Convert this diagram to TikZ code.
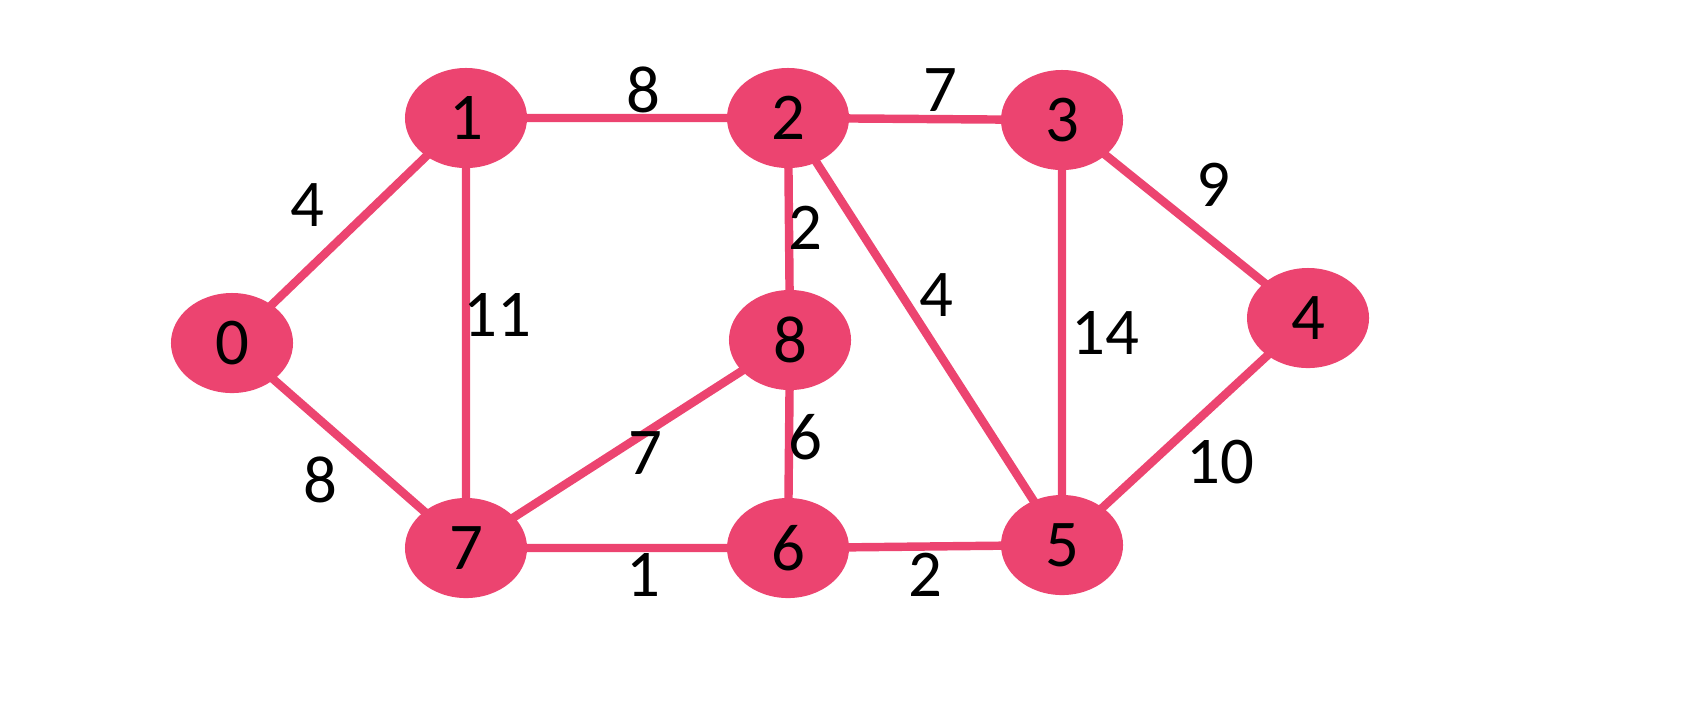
\documentclass[tikz,border=0pt]{standalone}
\usepackage{fontspec}
\setmainfont{Carlito}
\usetikzlibrary{shapes.geometric,backgrounds}
\definecolor{pk}{HTML}{EC4470}
\begin{document}
\begin{tikzpicture}[x=0.01cm,y=-0.01cm,
  vert/.style={ellipse,fill=pk,minimum width=1.22cm,minimum height=1.0cm,inner sep=0pt,font=\fontsize{19}{21}\selectfont},
  edge/.style={draw=pk,line width=2.4pt},
  wt/.style={font=\fontsize{19}{21}\selectfont}]
\useasboundingbox (0,0) rectangle (1707,726);
\node[vert] (n0) at (232,343) {0};
\node[vert] (n1) at (466,118) {1};
\node[vert] (n2) at (788,118) {2};
\node[vert] (n3) at (1062,120) {3};
\node[vert] (n4) at (1308,318) {4};
\node[vert] (n5) at (1062,545) {5};
\node[vert] (n6) at (788,548) {6};
\node[vert] (n7) at (466,548) {7};
\node[vert] (n8) at (790,340) {8};
\begin{scope}[on background layer]
\draw[edge] (n0.center)--(n1.center) (n0.center)--(n7.center) (n1.center)--(n2.center)
  (n1.center)--(n7.center) (n2.center)--(n3.center) (n2.center)--(n8.center)
  (n2.center)--(n5.center) (n3.center)--(n4.center) (n3.center)--(n5.center)
  (n4.center)--(n5.center) (n8.center)--(n7.center) (n8.center)--(n6.center)
  (n7.center)--(n6.center) (n6.center)--(n5.center);
\end{scope}
\node[wt] (w1) at (643,90) {8};
\node[wt] (w2) at (940,90) {7};
\node[wt] (w3) at (307,205) {4};
\node[wt] (w4) at (497,315) {11};
\node[wt] (w5) at (805,228) {2};
\node[wt] (w6) at (936,295) {4};
\node[wt] (w7) at (1213,185) {9};
\node[wt] (w8) at (1105,333) {14};
\node[wt] (w9) at (320,480) {8};
\node[wt] (w10) at (645,453) {7};
\node[wt] (w11) at (805,437) {6};
\node[wt] (w12) at (1220,462) {10};
\node[wt] (w13) at (643,575) {1};
\node[wt] (w14) at (925,575) {2};
\end{tikzpicture}
\end{document}
